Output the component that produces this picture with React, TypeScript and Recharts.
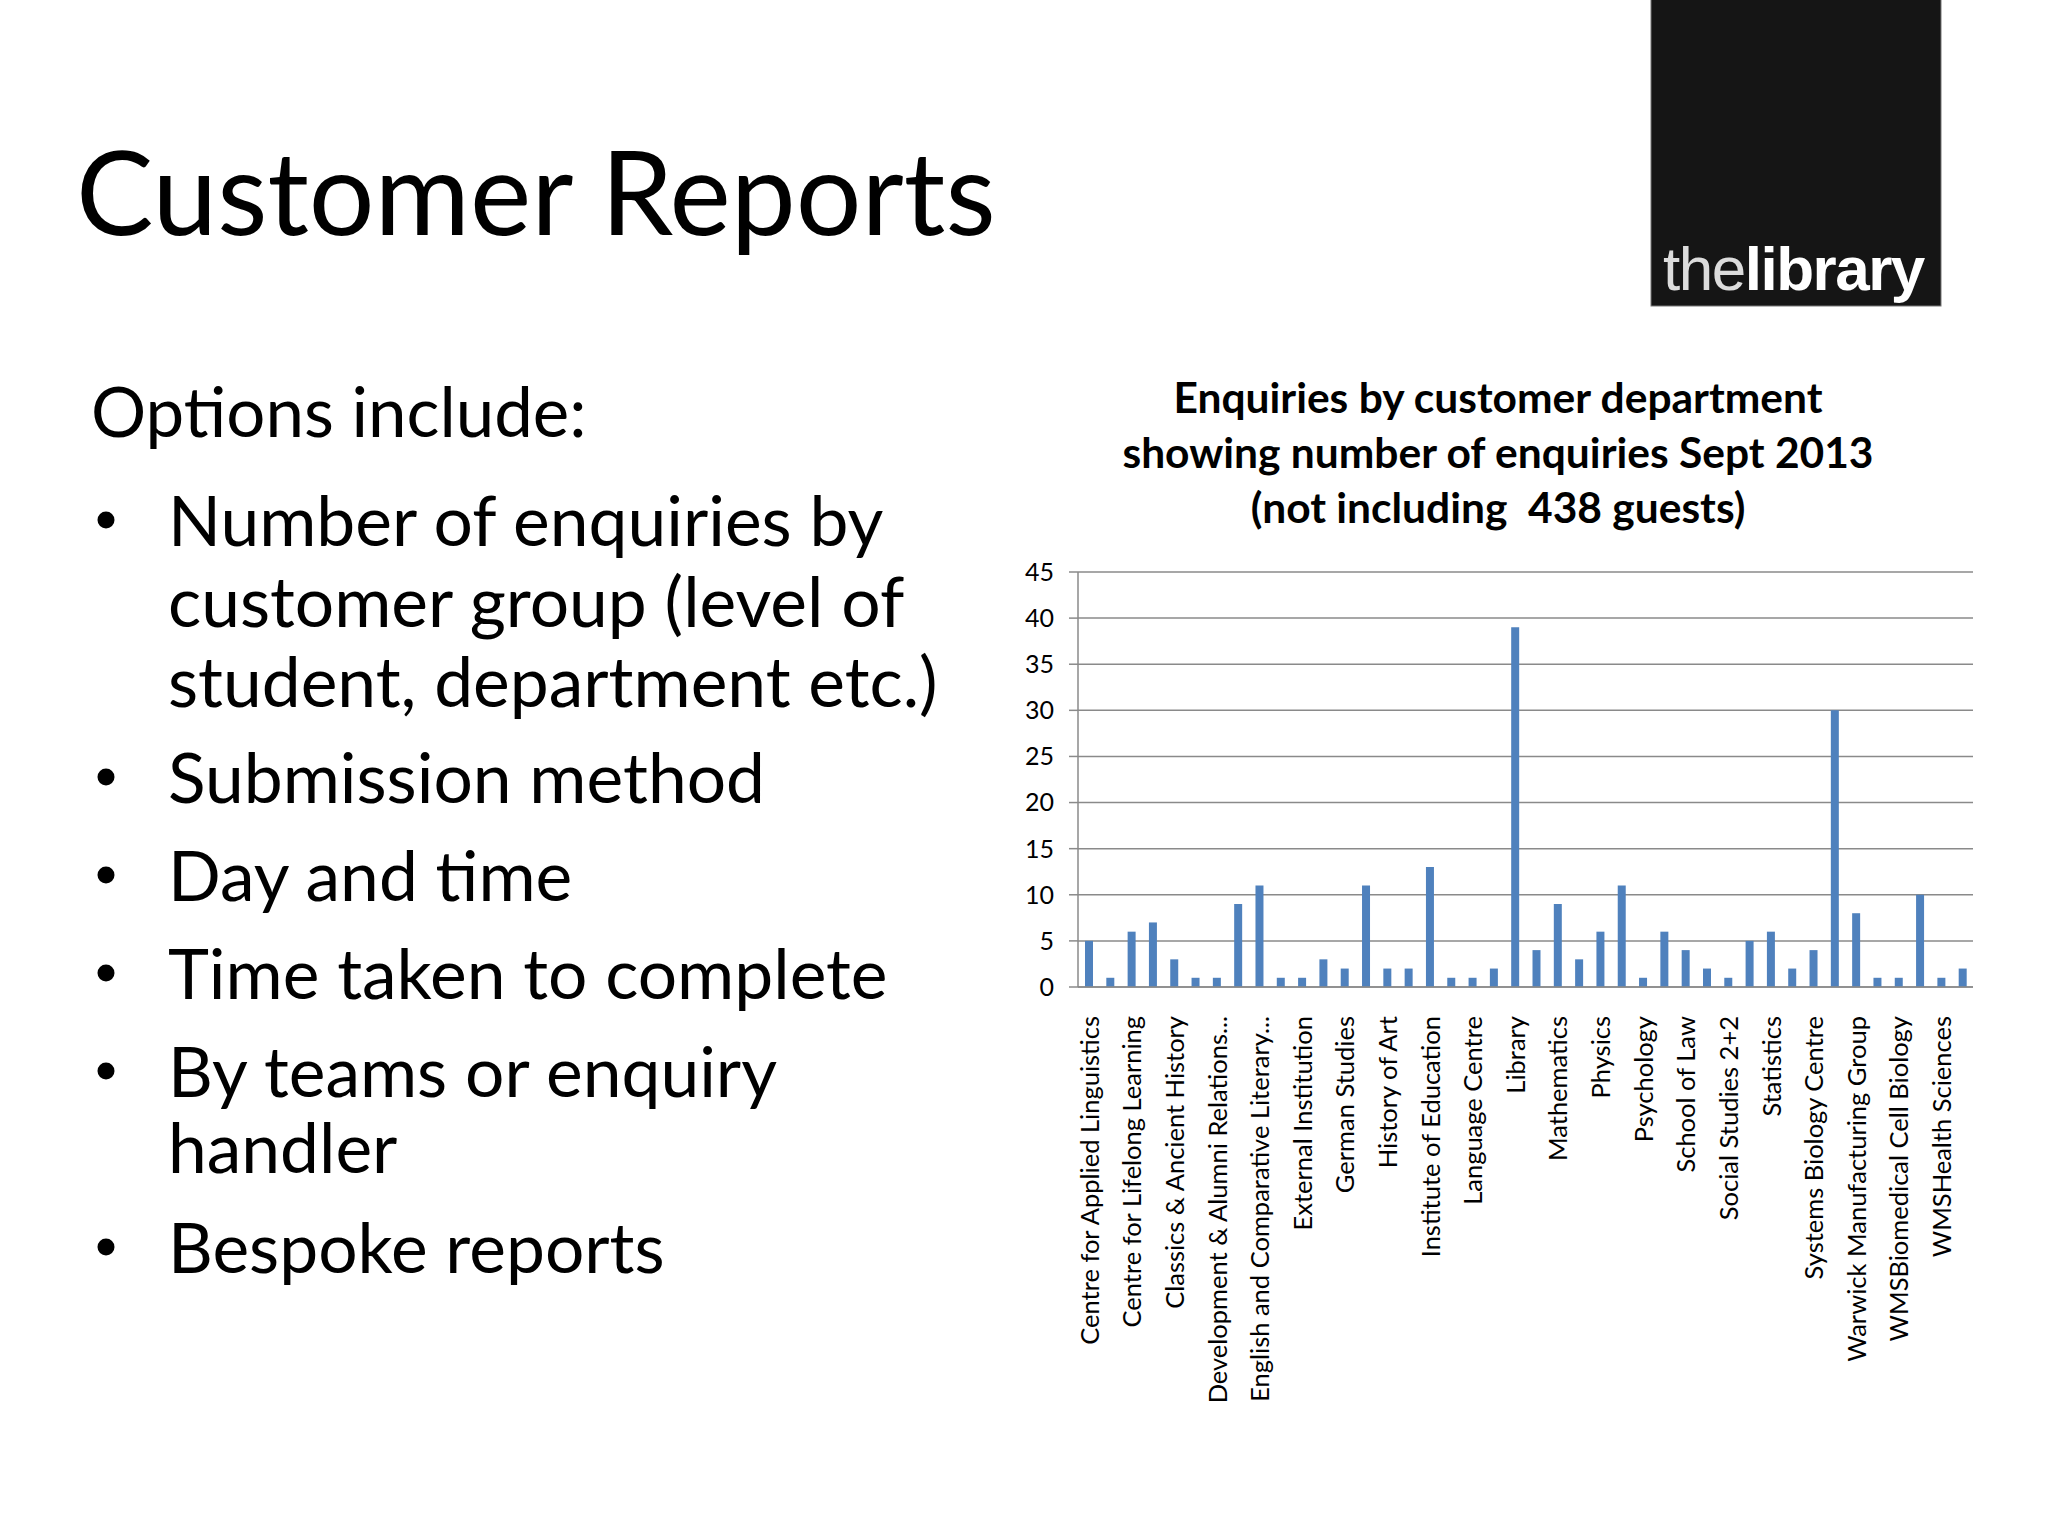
import React from "react";
import { BarChart, Bar, XAxis, YAxis, CartesianGrid } from "recharts";

// departments in the order they appear (only every other one is labelled on the slide)
const departments = [
  "Centre for Applied Linguistics",
  "Centre for Education Studies",
  "Centre for Lifelong Learning",
  "Chemistry",
  "Classics & Ancient History",
  "Computer Science",
  "Development & Alumni Relations...",
  "Economics",
  "English and Comparative Literary...",
  "Estates Office",
  "External Institution",
  "French Studies",
  "German Studies",
  "History",
  "History of Art",
  "Information Technology Services",
  "Institute of Education",
  "Institute of Employment Research",
  "Language Centre",
  "Learning Grid",
  "Library",
  "Life Sciences",
  "Mathematics",
  "Philosophy",
  "Physics",
  "Politics and International Studies",
  "Psychology",
  "Research Support Services",
  "School of Law",
  "School of Life Sciences",
  "Social Studies 2+2",
  "Sociology",
  "Statistics",
  "Student Careers and Skills",
  "Systems Biology Centre",
  "Unspecified",
  "Warwick Manufacturing Group",
  "Warwick Medical School",
  "WMSBiomedical Cell Biology",
  "WMSClinical Sciences",
  "WMSHealth Sciences",
  "WMSReproductive Health",
];

const enquiries = [
  5, 1, 6, 7, 3, 1, 1, 9, 11, 1, 1, 3, 2, 11, 2, 2, 13, 1, 1, 2, 39,
  4, 9, 3, 6, 11, 1, 6, 4, 2, 1, 5, 6, 2, 4, 30, 8, 1, 1, 10, 1, 2,
];

const yTicks = [0, 5, 10, 15, 20, 25, 30, 35, 40, 45];

const chartTitle = [
  "Enquiries by customer department",
  "showing number of enquiries Sept 2013",
  "(not including\u00a0 438 guests)",
];

const bullets = [
  ["Number of enquiries by", "customer group (level of", "student, department etc.)"],
  ["Submission method"],
  ["Day and time"],
  ["Time taken to complete"],
  ["By teams or enquiry", "handler"],
  ["Bespoke reports"],
];

const data = departments.map((name, i) => ({ name, value: enquiries[i] }));

const FONT = "Lato, 'Open Sans', sans-serif";
const GRID = "#8a8a8a";

const DeptTick = (props: any) => {
  const { x, y, payload } = props;
  return (
    <text
      x={x}
      y={y}
      transform={`rotate(-90 ${x} ${y})`}
      textAnchor="end"
      dominantBaseline="central"
      fontSize={25.5}
      fontFamily={FONT}
      fill="#000"
    >
      {payload.value}
    </text>
  );
};

const App: React.FC = () => {
  // bullet baselines (px)
  const lineBase = [546, 627, 707, 803, 901, 999, 1097, 1173, 1273];
  let k = 0;

  return (
    <div
      style={{
        position: "absolute",
        left: 0,
        top: 0,
        width: 2048,
        height: 1536,
        background: "#fff",
        overflow: "hidden",
      }}
    >
      <svg
        width={2048}
        height={1536}
        style={{ position: "absolute", left: 0, top: 0 }}
        fontFamily={FONT}
      >
        <text x={76} y={235} fontSize={116} fill="#000">
          Customer Reports
        </text>

        <rect x={1651} y={-2} width={290} height={308} fill="#151515" stroke="#777" strokeWidth={1} />
        <text x={1663} y={290} fill="#fff" fontFamily="'Liberation Sans', Arial, sans-serif" fontSize={62} letterSpacing={-1.5}>
          <tspan fontWeight={300} fill="#dcdcdc">the</tspan>
          <tspan fontWeight={700}>library</tspan>
        </text>

        <text x={91} y={437} fontSize={69} fill="#000">
          Options include:
        </text>
        {bullets.map((lines, bi) =>
          lines.map((line, li) => {
            const yy = lineBase[k++];
            return (
              <g key={`${bi}-${li}`}>
                {li === 0 && <circle cx={106} cy={yy - 26} r={8.5} fill="#000" />}
                <text x={168} y={yy} fontSize={69.5} fill="#000">
                  {line}
                </text>
              </g>
            );
          })
        )}

        {chartTitle.map((t, i) => (
          <text key={t} x={1498} y={413 + i * 55} fontSize={42.5} fontWeight={700} textAnchor="middle" fill="#000">
            {t}
          </text>
        ))}
      </svg>

      <div style={{ position: "absolute", left: 1000, top: 540 }}>
        <BarChart
          width={990}
          height={880}
          data={data}
          margin={{ top: 32, right: 17, left: 18, bottom: 0 }}
        >
          <CartesianGrid vertical={false} stroke={GRID} strokeWidth={1.5} />
          <XAxis
            dataKey="name"
            interval={1}
            tickLine={false}
            tickSize={0}
            tickMargin={29}
            height={433}
            stroke={GRID}
            strokeWidth={1.5}
            tick={<DeptTick />}
          />
          <YAxis
            domain={[0, 45]}
            ticks={yTicks}
            width={60}
            tickSize={9}
            tickMargin={15}
            stroke={GRID}
            strokeWidth={1.5}
            tick={{ fontSize: 25, fontFamily: FONT, fill: "#000" }}
            interval={0}
          />
          <Bar dataKey="value" fill="#4f81bd" barSize={8} isAnimationActive={false} />
        </BarChart>
      </div>
    </div>
  );
};

export default App;
